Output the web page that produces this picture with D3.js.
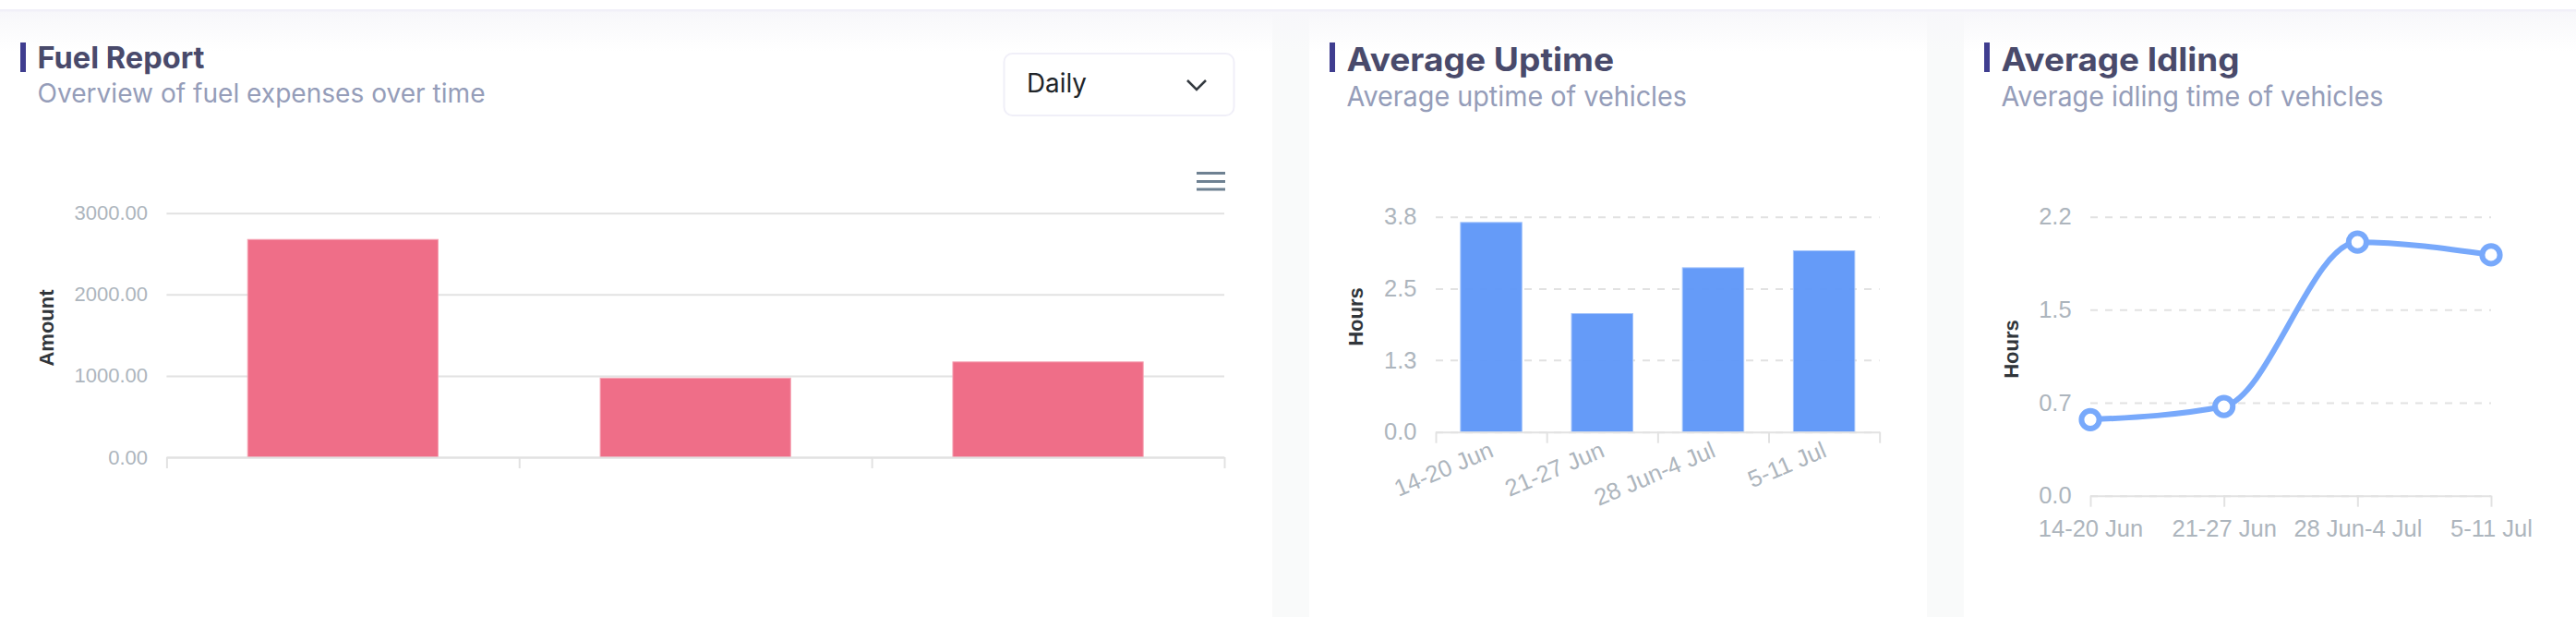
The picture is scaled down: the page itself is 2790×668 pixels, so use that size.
<!DOCTYPE html>
<html lang="en">
<head>
    <meta charset="UTF-8">
    <title>Fleet Dashboard</title>
    <style>
        body, html { margin: 0; padding: 0; background: #fff; overflow: hidden; }
        svg { display: block; }
        .axis-label { font-family: "Liberation Sans", Arial, sans-serif; font-size: 22px; fill: #adb5bd; }
        .axis-label.big { font-size: 25.5px; }
        .axis-title { font-family: "Liberation Sans", Arial, sans-serif; font-size: 22px; font-weight: 700; fill: #30353a; }
        .card-title { font-family: Inter, sans-serif; font-weight: 700; fill: #494a6b; }
        .card-sub { font-family: Inter, sans-serif; font-weight: 400; fill: #959db9; }
    </style>
    <script src="https://d3js.org/d3.v7.min.js"></script>
</head>
<body>
    <div id="chart"></div>
    <script>
        // values
        const fuelPeriods = ["Period 1", "Period 2", "Period 3"];
        const fuelAmounts = [2676, 972, 1171];
        const fuelTicks = [0, 1000, 2000, 3000];

        const weeks = ["14-20 Jun", "21-27 Jun", "28 Jun-4 Jul", "5-11 Jul"];
        const uptimeHours = [3.7, 2.09, 2.9, 3.2];
        const uptimeTicks = [0, 1.27, 2.53, 3.8];
        const idlingHours = [0.6, 0.704, 2.0, 1.9];
        const idlingTicks = [0, 0.733, 1.467, 2.2];

        const width = 2790, height = 668;
        const gridColor = "#e2e2e2";

        const svg = d3.select("#chart").append("svg")
            .attr("width", width)
            .attr("height", height);

        const defs = svg.append("defs");
        const fade = defs.append("linearGradient")
            .attr("id", "topFade")
            .attr("x1", 0).attr("x2", 0).attr("y1", 0).attr("y2", 1);
        fade.append("stop").attr("offset", "0%").attr("stop-color", "#f7f7fa").attr("stop-opacity", 1);
        fade.append("stop").attr("offset", "100%").attr("stop-color", "#f7f7fa").attr("stop-opacity", 0);

        // page background, gutters between the cards
        svg.append("rect").attr("x", 1378).attr("y", 12).attr("width", 40).attr("height", 656).attr("fill", "#f9fafa");
        svg.append("rect").attr("x", 2087).attr("y", 12).attr("width", 40).attr("height", 656).attr("fill", "#f9fafa");
        svg.append("rect").attr("x", 0).attr("y", 12).attr("width", width).attr("height", 44).attr("fill", "url(#topFade)");
        svg.append("rect").attr("x", 0).attr("y", 10).attr("width", width).attr("height", 2.5).attr("fill", "#f1f0f8");

        function cardHeader(barX, title, sub, titleY, subY, titleSize, subSize, titleW, subW) {
            svg.append("rect")
                .attr("x", barX).attr("y", 46)
                .attr("width", 6).attr("height", 32)
                .attr("fill", "#3f3d8f");
            svg.append("text").attr("class", "card-title")
                .attr("x", barX + 18.5).attr("y", titleY)
                .attr("font-size", titleSize)
                .attr("textLength", titleW).attr("lengthAdjust", "spacingAndGlyphs")
                .text(title);
            svg.append("text").attr("class", "card-sub")
                .attr("x", barX + 18.5).attr("y", subY)
                .attr("font-size", subSize)
                .attr("textLength", subW).attr("lengthAdjust", "spacingAndGlyphs")
                .text(sub);
        }

        function axisTitle(x, y, label) {
            svg.append("text").attr("class", "axis-title")
                .attr("transform", `translate(${x},${y}) rotate(-90)`)
                .attr("text-anchor", "middle")
                .text(label);
        }

        // y axis with its grid lines
        function drawGrid(y, ticks, left, right, format, dash, labelRight, labelClass) {
            const g = svg.append("g")
                .attr("transform", `translate(${left},0)`)
                .call(d3.axisLeft(y).tickValues(ticks).tickFormat(format).tickSize(-(right - left)).tickPadding(left - labelRight));
            g.select(".domain").remove();
            g.selectAll("line").attr("stroke", gridColor).attr("stroke-width", 2).attr("stroke-dasharray", dash);
            g.selectAll("text").attr("class", labelClass).attr("fill", null);
            g.attr("font-family", null).attr("font-size", null);
        }

        // baseline with ticks on the band edges, as many as there are categories + 1
        function drawBaseline(n, left, right, y0) {
            const edge = d3.scaleLinear().domain([0, n]).range([left, right]);
            const g = svg.append("g")
                .attr("transform", `translate(0,${y0})`)
                .call(d3.axisBottom(edge).tickValues(d3.range(n + 1)).tickFormat("").tickSize(12).tickSizeOuter(0));
            g.selectAll("path,line").attr("stroke", gridColor).attr("stroke-width", 2);
        }

        function drawBars(x, y, cats, vals, y0, fill, stroke, opacity) {
            svg.append("g").selectAll("rect")
                .data(vals)
                .join("rect")
                .attr("x", (d, i) => x(cats[i]))
                .attr("y", d => y(d))
                .attr("width", x.bandwidth())
                .attr("height", d => y0 - y(d))
                .attr("fill", fill)
                .attr("fill-opacity", opacity)
                .attr("stroke", stroke)
                .attr("stroke-width", 1);
        }

        // --- Fuel Report ---
        cardHeader(22, "Fuel Report", "Overview of fuel expenses over time", 74, 110.7, 32, 28, 181, 485);
        axisTitle(58, 355, "Amount");

        const fuelY = d3.scaleLinear().domain([0, 3000]).range([495, 230.7]);
        const fuelX = d3.scaleBand().domain(fuelPeriods).range([180.4, 1326]).paddingInner(0.46).paddingOuter(0.23);
        drawGrid(fuelY, fuelTicks, 180.4, 1326, d3.format(".2f"), null, 160, "axis-label");
        drawBars(fuelX, fuelY, fuelPeriods, fuelAmounts, 495, "#ef6e88", "#f5a3b4", 1);
        drawBaseline(fuelPeriods.length, 180.4, 1326, 495);

        // dropdown
        svg.append("rect")
            .attr("x", 1087.5).attr("y", 58)
            .attr("width", 249).attr("height", 67)
            .attr("rx", 9)
            .attr("fill", "#fff")
            .attr("stroke", "#f0eff8")
            .attr("stroke-width", 2);
        svg.append("text")
            .attr("x", 1112).attr("y", 100)
            .attr("font-family", "Inter, sans-serif").attr("font-size", 28).attr("fill", "#212529")
            .attr("textLength", 65).attr("lengthAdjust", "spacingAndGlyphs")
            .text("Daily");
        svg.append("path")
            .attr("d", d3.line()([[1286, 87], [1296, 97], [1306, 87]]))
            .attr("fill", "none").attr("stroke", "#343a40").attr("stroke-width", 2.5);

        // chart menu icon
        svg.append("g").selectAll("rect")
            .data([186, 195, 203.5])
            .join("rect")
            .attr("x", 1296).attr("y", d => d)
            .attr("width", 31).attr("height", 3)
            .attr("fill", "#6e8192");

        // --- Average Uptime ---
        cardHeader(1440, "Average Uptime", "Average uptime of vehicles", 76.7, 115, 35, 30, 289.5, 368.5);
        axisTitle(1476, 343, "Hours");

        const upY = d3.scaleLinear().domain([0, 3.8]).range([467.7, 234.7]);
        const upX = d3.scaleBand().domain(weeks).range([1555, 2035.7]).paddingInner(0.447).paddingOuter(0.2235);
        drawGrid(upY, uptimeTicks, 1555, 2035.7, d3.format(".1f"), "8 8", 1534.4, "axis-label big");
        drawBars(upX, upY, weeks, uptimeHours, 467.7, "#5f97f8", "#a3c4fb", 0.96);
        drawBaseline(weeks.length, 1555, 2035.7, 467.7);

        const upLabels = svg.append("g")
            .attr("transform", "translate(0,467.7)")
            .call(d3.axisBottom(upX).tickSize(0));
        upLabels.select(".domain").remove();
        upLabels.attr("font-family", null).attr("font-size", null);
        upLabels.selectAll("text")
            .attr("class", "axis-label big")
            .attr("fill", null)
            .attr("y", null).attr("dy", null)
            .attr("text-anchor", "end")
            .attr("transform", "translate(4,26) rotate(-23)");

        // --- Average Idling ---
        cardHeader(2149, "Average Idling", "Average idling time of vehicles", 76.7, 115, 35, 30, 258, 414);
        axisTitle(2186, 378, "Hours");

        const idleY = d3.scaleLinear().domain([0, 2.2]).range([536.7, 234.7]);
        const idleX = d3.scalePoint().domain(weeks).range([2264, 2698]);
        drawGrid(idleY, idlingTicks, 2264, 2698, d3.format(".1f"), "8 8", 2243.6, "axis-label big");
        drawBaseline(weeks.length - 1, 2264, 2698, 536.7);

        const idleLabels = svg.append("g")
            .attr("transform", "translate(0,536.7)")
            .call(d3.axisBottom(idleX).tickSize(0).tickPadding(26));
        idleLabels.select(".domain").remove();
        idleLabels.attr("font-family", null).attr("font-size", null);
        idleLabels.selectAll("text").attr("class", "axis-label big").attr("fill", null);

        const idleLine = d3.line()
            .x((d, i) => idleX(weeks[i]))
            .y(d => idleY(d))
            .curve(d3.curveMonotoneX);

        svg.append("path")
            .attr("d", idleLine(idlingHours))
            .attr("fill", "none")
            .attr("stroke", "#78a9fb")
            .attr("stroke-width", 6);

        svg.append("g").selectAll("circle")
            .data(idlingHours)
            .join("circle")
            .attr("cx", (d, i) => idleX(weeks[i]))
            .attr("cy", d => idleY(d))
            .attr("r", 9.6)
            .attr("fill", "#fff")
            .attr("stroke", "#78a9fb")
            .attr("stroke-width", 6);
    </script>
</body>
</html>
